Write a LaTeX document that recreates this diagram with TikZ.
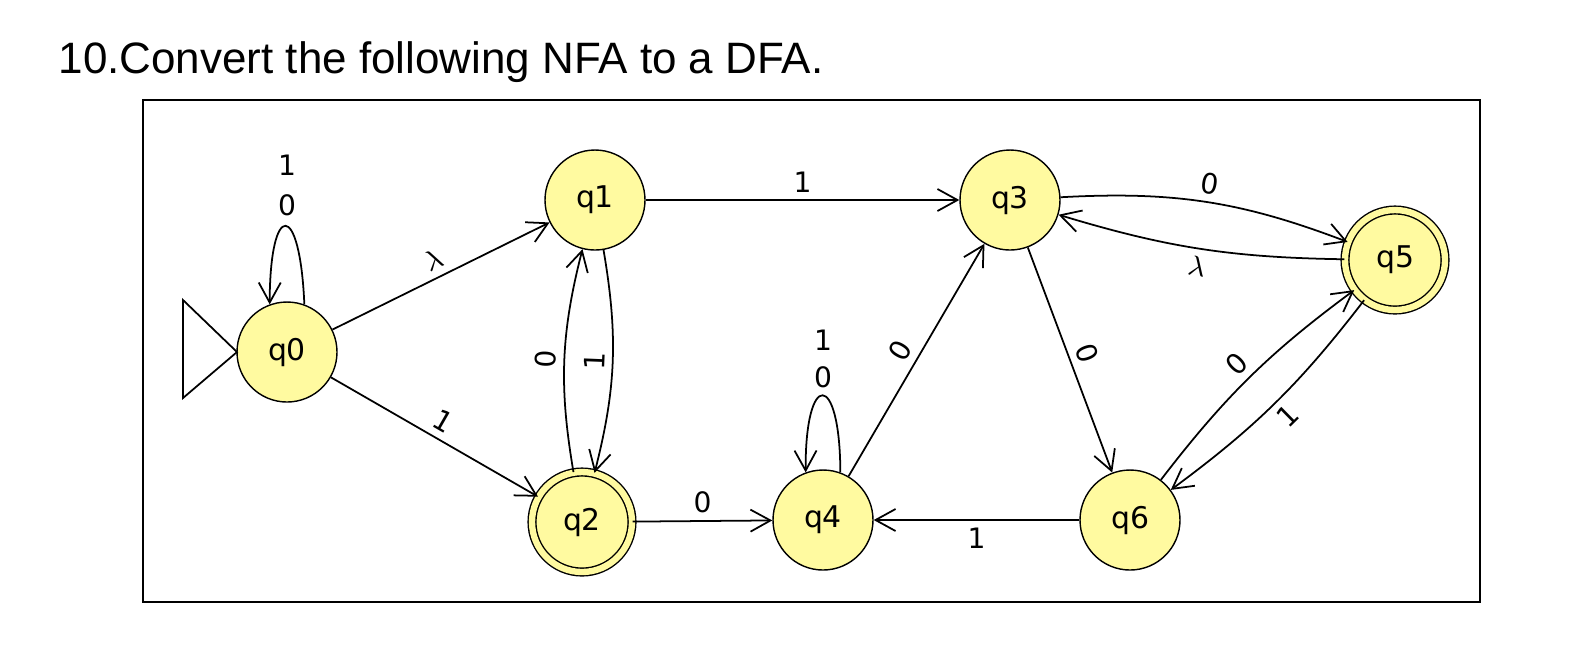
\documentclass[tikz,border=0pt]{standalone}
\usepackage{fontspec}
\setmainfont{Liberation Sans}
\newfontfamily\lblfont{DejaVu Sans}
\usetikzlibrary{arrows.meta}
\definecolor{stfill}{RGB}{255,250,160}
\begin{document}
\begin{tikzpicture}[x=0.01cm,y=-0.01cm,
  st/.style={circle,draw,fill=stfill,minimum size=100*0.01cm,inner sep=0pt,font=\lblfont\fontsize{8.5}{10}\selectfont},
  acc/.style={st,double=stfill,double distance=1.8pt},
  ar/.style={-{Straight Barb[length=0.2cm,width=0.22cm]},line width=0.5pt},
  lb/.style={font=\lblfont\fontsize{8}{9}\selectfont,inner sep=2pt}]
\useasboundingbox (0,0) rectangle (1588,644);
\node[anchor=base west,font=\fontsize{12.5}{15}\selectfont,inner sep=0] (title) at (58,73) {10.Convert the following NFA to a DFA.};
\draw[line width=0.5pt] (143,100) rectangle (1480,602);
\node[st] (q0) at (287,352) {q0};
\node[st] (q1) at (595,200) {q1};
\node[acc] (q2) at (582,522) {q2};
\node[st] (q3) at (1010,200) {q3};
\node[st] (q4) at (823,520) {q4};
\node[acc] (q5) at (1395,260) {q5};
\node[st] (q6) at (1130,520) {q6};
\draw[line width=0.5pt] (183,300) -- (183,398) -- (237,352) -- cycle;
\draw[ar] (q0.70) .. controls (300,200) and (270,200) .. (q0.110);
\node[lb] (l0a) at (287,165) {1};
\node[lb] (l0b) at (287,205) {0};
\draw[ar] (q0) -- node[lb,sloped,above] {$\lambda$} (q1);
\draw[ar] (q0) -- node[lb,sloped,above] {1} (q2);
\draw[ar] (q1) to[bend left=12] node[lb,sloped,above] {1} (q2);
\draw[ar] (q2) to[bend left=12] node[lb,sloped,above] {0} (q1);
\draw[ar] (q1) -- node[lb,above] {1} (q3);
\draw[ar] (q3) to[bend left=12] node[lb,sloped,above] {0} (q5);
\draw[ar] (q5) to[bend left=8] node[lb,sloped,below] {$\lambda$} (q3);
\draw[ar] (q3) -- node[lb,sloped,above] {0} (q6);
\draw[ar] (q6) to[bend left=8] node[lb,sloped,above] {0} (q5);
\draw[ar] (q5) to[bend left=8] node[lb,sloped,below] {1} (q6);
\draw[ar] (q4) -- node[lb,sloped,above] {0} (q3);
\draw[ar] (q4.70) .. controls (840,370) and (805,370) .. (q4.110);
\node[lb] (l4a) at (823,340) {1};
\node[lb] (l4b) at (823,377) {0};
\draw[ar] (q2) -- node[lb,above] {0} (q4);
\draw[ar] (q6) -- node[lb,below] {1} (q4);
\end{tikzpicture}
\end{document}
